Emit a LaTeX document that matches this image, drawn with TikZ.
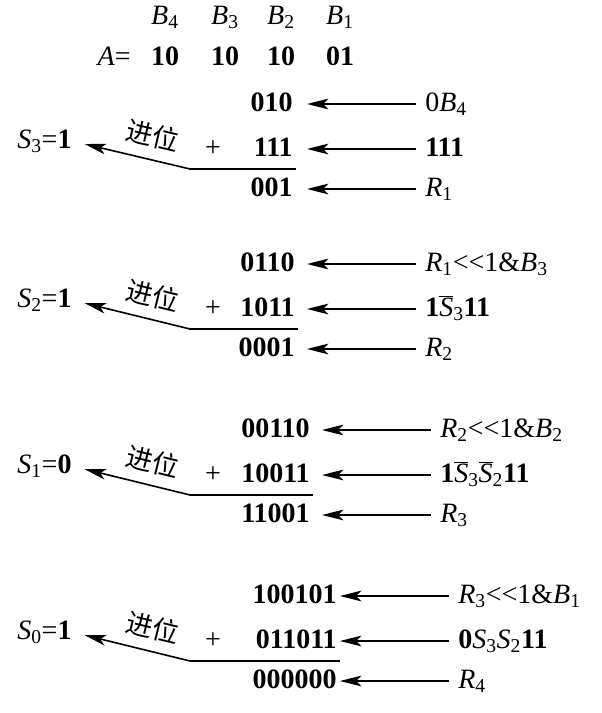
\documentclass[tikz,border=0pt]{standalone}
\usepackage{fontspec}
\setmainfont{Liberation Serif}
\newfontfamily\cjk{Noto Sans CJK SC}
\usetikzlibrary{arrows.meta}
\newcommand{\vsub}[2]{\textit{#1}\textsubscript{#2}}
\newcommand{\nsub}[2]{$\overline{\mbox{\itshape #1}}$\textsubscript{#2}}
\tikzset{
  txt/.style={inner sep=0pt, text height=16pt, text depth=5pt,
    font=\fontsize{21}{25}\selectfont},
  num/.style={txt, anchor=east, font=\fontsize{21}{25}\selectfont\bfseries},
  lab/.style={txt, anchor=west},
  arr/.style={-{Stealth[length=16pt,width=8pt,inset=4pt]}, line width=1.2pt},
}
\begin{document}
\begin{tikzpicture}[x=0.75pt, y=-0.75pt]
  \useasboundingbox (0,0) rectangle (601,713);
  % header
  \foreach \k/\x/\v in {4/165/10, 3/225/10, 2/281/10, 1/340/01}{
    \node[txt] (h\k) at (\x,17) {\vsub{B}{\k}};
    \node[txt, font=\fontsize{21}{25}\selectfont\bfseries] (v\k) at (\x,58) {\v};
  }
  \node[txt, anchor=east] (aeq) at (131,58) {\textit{A}=};
  % four addition steps: \xr right edge of the sums, \g gap to the arrow tips
  \foreach \n/\y/\xr/\g/\sy/\s/\a/\b/\r/\la/\lb/\lr in {
    3/104/293/14/141/{\vsub{S}{3}=\textbf{1}}/010/111/001/{0\vsub{B}{4}}/{\textbf{111}}/{\vsub{R}{1}},
    2/264/295/12/300/{\vsub{S}{2}=\textbf{1}}/0110/1011/0001/{\vsub{R}{1}<{}<1\&\vsub{B}{3}}/{\textbf{1}\nsub{S}{3}\textbf{11}}/{\vsub{R}{2}},
    1/430/310/12/466/{\vsub{S}{1}=\textbf{0}}/00110/10011/11001/{\vsub{R}{2}<{}<1\&\vsub{B}{2}}/{\textbf{1}\nsub{S}{3}\nsub{S}{2}\textbf{11}}/{\vsub{R}{3}},
    0/596/337/3/632/{\vsub{S}{0}=\textbf{1}}/100101/011011/000000/{\vsub{R}{3}<{}<1\&\vsub{B}{1}}/{\textbf{0}\vsub{S}{3}\vsub{S}{2}\textbf{11}}/{\vsub{R}{4}}}{
    \node[num] (a\n) at (\xr,\y) {\a};
    \node[num] (b\n) at (\xr,\y+45) {\b};
    \node[num] (r\n) at (\xr,\y+85) {\r};
    \node[lab] (la\n) at (\xr+\g+118,\y) {\la};
    \node[lab] (lb\n) at (\xr+\g+118,\y+45) {\lb};
    \node[lab] (lr\n) at (\xr+\g+118,\y+85) {\lr};
    \node[txt] (p\n) at (213,\y+45) {+};
    \node[lab] (s\n) at (17,\sy) {\s};
    \coordinate (hl\n) at (190,\y+65);
    \coordinate (hr\n) at (\xr+3,\y+65);
    \draw[line width=1.2pt] (hl\n) -- (hr\n);
    \foreach \row in {a,b,r}
      \draw[arr, shorten <=7pt, shorten >=\g*0.75pt] (l\row\n.west) -- (\row\n.east);
    \draw[arr, shorten >=10pt] (hl\n) -- (s\n.east)
      node[pos=0.36, above, sloped, inner sep=8pt, font=\cjk\fontsize{20}{24}\selectfont] (c\n) {进位};
  }
\end{tikzpicture}
\end{document}
